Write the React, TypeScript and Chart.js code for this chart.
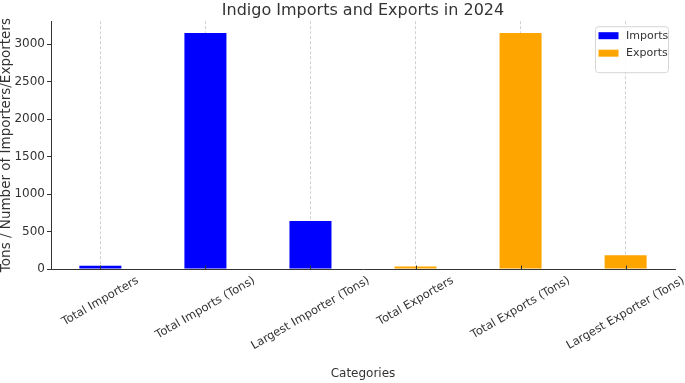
import React, { useEffect, useRef } from "react";
import { Chart, registerables } from "chart.js";

Chart.register(...registerables);

const categories = [
  "Total Importers",
  "Total Imports (Tons)",
  "Largest Importer (Tons)",
  "Total Exporters",
  "Total Exports (Tons)",
  "Largest Exporter (Tons)",
];
const importsValues: (number | null)[] = [42, 3150, 640, null, null, null];
const exportsValues: (number | null)[] = [null, null, null, 32, 3150, 185];
const yTickValues = [0, 500, 1000, 1500, 2000, 2500, 3000];
const yMax = 3307.5;

const FONT = "'DejaVu Sans', sans-serif";
const TEXT = "#333333";

const toPoints = (vals: (number | null)[]) =>
  vals
    .map((v, i) => (v === null ? null : { x: i, y: v }))
    .filter((p) => p !== null) as { x: number; y: number }[];

const overlayPlugin = {
  id: "overlay",
  afterDraw(chart: any) {
    const ctx = chart.ctx as CanvasRenderingContext2D;
    const xs = chart.scales.x;
    const area = chart.chartArea;
    ctx.save();
    // inward x tick marks
    ctx.strokeStyle = TEXT;
    ctx.lineWidth = 1;
    categories.forEach((_, i) => {
      const px = Math.round(xs.getPixelForValue(i)) + 0.5;
      ctx.beginPath();
      ctx.moveTo(px, area.bottom);
      ctx.lineTo(px, area.bottom - 3.5);
      ctx.stroke();
    });
    // rotated category labels (centered like matplotlib)
    const fs = 11.5;
    ctx.font = `${fs}px ${FONT}`;
    ctx.fillStyle = TEXT;
    ctx.textAlign = "center";
    ctx.textBaseline = "middle";
    const ang = Math.PI / 6;
    const h = fs * 1.15;
    categories.forEach((label, i) => {
      const px = xs.getPixelForValue(i);
      const w = ctx.measureText(label).width;
      const bboxH = w * Math.sin(ang) + h * Math.cos(ang);
      const cy = area.bottom + 5 + bboxH / 2;
      ctx.save();
      ctx.translate(px, cy);
      ctx.rotate(-ang);
      ctx.fillText(label, 0, 0);
      ctx.restore();
    });
    // legend inside the axes
    const items = chart.data.datasets.map((d: any) => ({
      label: d.label,
      color: d.backgroundColor,
    }));
    const boxRight = area.right - 7;
    const boxTop = area.top + 5;
    const boxW = 73;
    const rowH = 17.5;
    const boxH = 8 + rowH * items.length + 3;
    const boxLeft = boxRight - boxW;
    ctx.fillStyle = "rgba(255,255,255,0.85)";
    ctx.strokeStyle = "#d6d6d6";
    ctx.lineWidth = 1;
    ctx.beginPath();
    (ctx as any).roundRect(boxLeft + 0.5, boxTop + 0.5, boxW, boxH, 3);
    ctx.fill();
    ctx.stroke();
    ctx.font = `11px ${FONT}`;
    ctx.textAlign = "left";
    ctx.textBaseline = "middle";
    items.forEach((it: any, k: number) => {
      const cy = boxTop + 9.5 + k * rowH;
      ctx.fillStyle = it.color;
      ctx.fillRect(boxLeft + 3.5, cy - 3.5, 20, 7);
      ctx.fillStyle = TEXT;
      ctx.fillText(it.label, boxLeft + 31, cy);
    });
    ctx.restore();
  },
};

export default function App() {
  const ref = useRef<HTMLCanvasElement | null>(null);
  useEffect(() => {
    document.body.style.margin = "0";
    const canvas = ref.current;
    if (!canvas) return;
    const chart = new Chart(canvas, {
      type: "bar",
      data: {
        datasets: [
          {
            label: "Imports",
            data: toPoints(importsValues),
            backgroundColor: "#0000ff",
            borderWidth: 0,
          },
          {
            label: "Exports",
            data: toPoints(exportsValues),
            backgroundColor: "#ffa500",
            borderWidth: 0,
          },
        ],
      },
      plugins: [overlayPlugin],
      options: {
        animation: false,
        responsive: false,
        devicePixelRatio: 1,
        layout: { padding: { left: 0, right: 10, top: 0, bottom: 0 } },
        datasets: {
          bar: { barPercentage: 0.4, categoryPercentage: 1 },
        },
        plugins: {
          legend: { display: false },
          tooltip: { enabled: false },
          title: {
            display: true,
            text: "Indigo Imports and Exports in 2024",
            fullSize: false,
            color: TEXT,
            font: { family: FONT, size: 16, weight: "normal" },
            padding: { top: 1, bottom: 1 },
          },
        },
        scales: {
          x: {
            type: "linear",
            stacked: true,
            min: -0.47,
            max: 5.47,
            offset: false,
            z: 1,
            ticks: { display: false },
            afterBuildTicks: (s: any) => {
              s.ticks = categories.map((_, i) => ({ value: i }));
            },
            grid: {
              display: true,
              offset: false,
              drawTicks: false,
              color: "rgba(185,185,185,0.85)",
              lineWidth: 0.8,
            },
            border: { display: true, color: TEXT, width: 1, dash: [3, 2] },
            title: {
              display: true,
              text: "Categories",
              color: TEXT,
              font: { family: FONT, size: 12 },
              padding: { top: 0, bottom: 2 },
            },
            afterFit: (s: any) => {
              s.height = 114;
            },
          },
          y: {
            type: "linear",
            stacked: true,
            min: 0,
            max: yMax,
            afterBuildTicks: (s: any) => {
              s.ticks = yTickValues.map((v) => ({ value: v }));
            },
            ticks: {
              color: TEXT,
              padding: 2,
              font: { family: FONT, size: 12 },
              callback: (v: any) => String(v),
            },
            grid: {
              drawOnChartArea: false,
              drawTicks: true,
              tickLength: 4,
              tickColor: TEXT,
            },
            border: { display: true, color: TEXT, width: 1 },
            title: {
              display: true,
              text: "Tons / Number of Importers/Exporters",
              color: TEXT,
              font: { family: FONT, size: 13.5, lineHeight: 1 },
              padding: { top: 0, bottom: 0 },
            },
            afterFit: (s: any) => {
              s.width = 51;
            },
          },
        },
      } as any,
    });
    return () => chart.destroy();
  }, []);
  return (
    <div style={{ width: 685, height: 383 }}>
      <canvas ref={ref} width={685} height={383} />
    </div>
  );
}
